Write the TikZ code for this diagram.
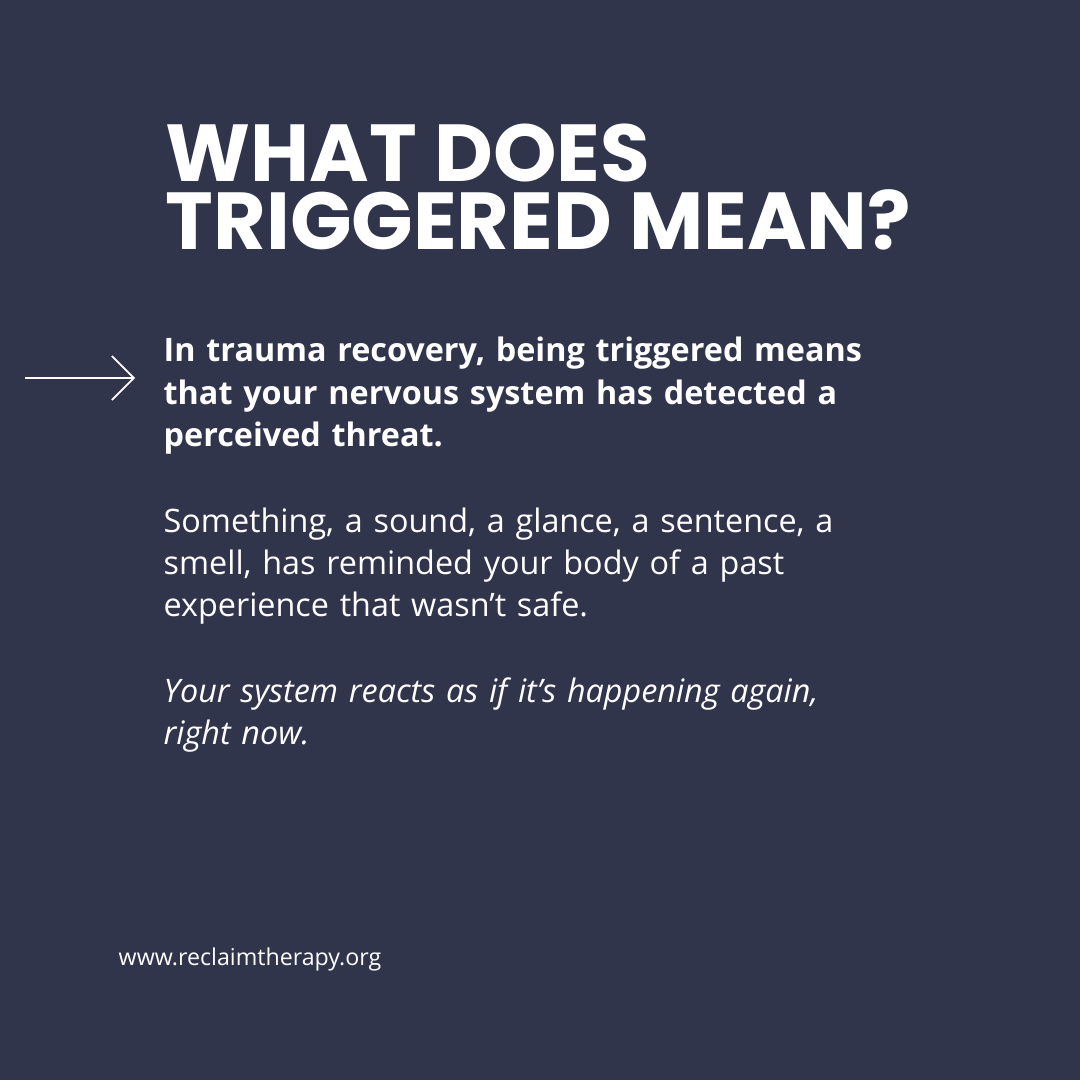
\documentclass[tikz,border=0pt]{standalone}
\usepackage{fontspec}
\setmainfont{Open Sans}
\newfontfamily\titlefont{Poppins}
\usetikzlibrary{arrows.meta,positioning}
\definecolor{navy}{HTML}{30354C}
\begin{document}
\begin{tikzpicture}[
    font=\fontsize{9.2pt}{12pt}\selectfont,
    every node/.style={text=white, inner sep=0pt, anchor=base west},
    title/.style={font=\titlefont\bfseries\fontsize{23pt}{19.5pt}\selectfont, align=left},
    body/.style={align=left, text width=8.5cm},
    arrow/.style={-{Straight Barb[length=2.2mm,width=4.4mm]}, white, line width=0.5pt}
]
    % Background
    \fill[navy] (0,0) rectangle (10.8,-10.8);
    \useasboundingbox (0,0) rectangle (10.8,-10.8);

    % Heading
    \node[title] (head) at (1.65,-2.5) {WHAT DOES\\TRIGGERED MEAN?};

    % Text
    \node[body, font=\bfseries\fontsize{9.2pt}{12pt}\selectfont] (lead) at (1.63,-3.62)
        {In trauma recovery, being triggered means\\that your nervous system has detected a\\perceived threat.};
    \node[body, font=\fontsize{9.2pt}{12pt}\selectfont] (story) at (1.63,-5.32)
        {Something, a sound, a glance, a sentence, a\\smell, has reminded your body of a past\\experience that wasn’t safe.};
    \node[body, font=\itshape\fontsize{9.2pt}{12pt}\selectfont] (again) at (1.63,-7.02)
        {Your system reacts as if it’s happening again,\\right now.};

    % Pointer
    \coordinate (start) at (0.25,-3.78);
    \coordinate (tip) at (1.35,-3.78);
    \draw[arrow] (start) -- (tip);

    % Footer
    \node[font=\fontsize{6.6pt}{8pt}\selectfont] (web) at (1.18,-9.65) {www.reclaimtherapy.org};
\end{tikzpicture}
\end{document}
